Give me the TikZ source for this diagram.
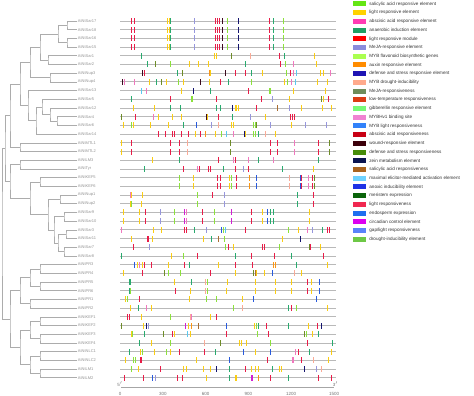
\documentclass[tikz,border=0pt]{standalone}
\usepackage{fontspec}
\setmainfont{Liberation Sans}
\usetikzlibrary{positioning,calc}

% tick colours
\definecolor{tR}{RGB}{232,28,72}
\definecolor{tY}{RGB}{250,205,20}
\definecolor{tT}{RGB}{40,170,110}
\definecolor{tG}{RGB}{140,225,60}
\definecolor{tP}{RGB}{240,120,190}
\definecolor{tL}{RGB}{150,150,220}
\definecolor{tB}{RGB}{40,90,220}
\definecolor{tN}{RGB}{20,20,110}
\definecolor{tO}{RGB}{250,150,20}
\definecolor{tS}{RGB}{250,170,150}
\definecolor{tV}{RGB}{110,140,40}
\definecolor{tK}{RGB}{60,10,30}
\definecolor{tC}{RGB}{90,200,240}
\definecolor{tM}{RGB}{210,30,210}
\definecolor{tW}{RGB}{170,110,50}

% legend colours
\definecolor{lc1}{RGB}{100,230,20}
\definecolor{lc2}{RGB}{255,210,0}
\definecolor{lc3}{RGB}{255,60,180}
\definecolor{lc4}{RGB}{30,160,100}
\definecolor{lc5}{RGB}{255,0,0}
\definecolor{lc6}{RGB}{140,140,220}
\definecolor{lc7}{RGB}{170,255,80}
\definecolor{lc8}{RGB}{255,140,0}
\definecolor{lc9}{RGB}{30,20,180}
\definecolor{lc10}{RGB}{255,170,140}
\definecolor{lc11}{RGB}{110,140,90}
\definecolor{lc12}{RGB}{220,60,20}
\definecolor{lc13}{RGB}{120,250,120}
\definecolor{lc14}{RGB}{240,130,210}
\definecolor{lc15}{RGB}{50,130,250}
\definecolor{lc16}{RGB}{200,0,20}
\definecolor{lc17}{RGB}{60,0,10}
\definecolor{lc18}{RGB}{70,140,10}
\definecolor{lc19}{RGB}{10,20,80}
\definecolor{lc20}{RGB}{170,100,30}
\definecolor{lc21}{RGB}{110,210,255}
\definecolor{lc22}{RGB}{30,50,230}
\definecolor{lc23}{RGB}{10,100,10}
\definecolor{lc24}{RGB}{240,40,80}
\definecolor{lc25}{RGB}{30,110,240}
\definecolor{lc26}{RGB}{220,0,240}
\definecolor{lc27}{RGB}{90,130,250}
\definecolor{lc28}{RGB}{110,200,70}

\newcommand\clade[4]{%
  \coordinate (cm) at ($(#3)!.5!(#4)$);
  \coordinate (cx) at (#2,0);
  \coordinate (#1) at (cm -| cx);
  \draw[tree] (#3) -| (#1) |- (#4);}

\begin{document}
\begin{tikzpicture}[x=1pt,y=-1pt,
  tree/.style={draw=gray!65,line width=0.6pt},
  bar/.style={draw=gray!55,line width=0.8pt},
  lab/.style={font=\fontsize{4}{4}\selectfont,text=gray!85,inner sep=0.4pt},
  key/.style={minimum width=13pt,minimum height=5pt,inner sep=0pt},
  keytext/.style={font=\fontsize{4.6}{5}\selectfont,text=black!80,inner sep=0.4pt},
  axlab/.style={font=\fontsize{4.5}{5}\selectfont,text=gray!90!black,inner sep=0.3pt}]
\useasboundingbox (0,0) rectangle (474,396);

% genes, tracks
\foreach \r/\g in {1/Sar17,2/Sar18,3/Sar16,4/Sar15,5/Sar1,6/Sar2,7/Nup3,8/Nup4,
  9/Sar13,10/Sar5,11/Sar12,12/Sar4,13/Sar6,14/Sar14,15/MTL1,16/MTL2,17/LM3,18/Tyr,
  19/KEF5,20/KEF6,21/Nup1,22/Nup2,23/Sar9,24/Sar10,25/Sar3,26/Sar11,27/Sar7,28/Sar8,
  29/PR3,30/PR4,31/PR5,32/PR6,33/PR1,34/PR2,35/KEF1,36/KEF2,37/KEF3,38/KEF4,
  39/NLC1,40/NLC2,41/LM1,42/LM2} {
  \coordinate (l\r) at (77,{21+(\r-1)*8.7});
  \node[lab,right=0.3pt of l\r] (gene\r) {AtNt\g};
  \coordinate (bs\r) at (120,{21+(\r-1)*8.7});
  \coordinate (be\r) at (336,{21+(\r-1)*8.7});
  \draw[bar] (bs\r) -- (be\r);
}

% tree
\clade{a1}{67}{l1}{l2}
\clade{a2}{67}{l3}{l4}
\clade{a3}{58}{a1}{a2}
\clade{a4}{48}{l5}{l6}
\clade{a5}{40}{a3}{a4}
\clade{a6}{50}{l7}{l8}
\clade{a7}{30}{a5}{a6}
\clade{b1}{57}{l12}{l13}
\clade{b2}{50}{l11}{b1}
\clade{b3}{42}{l10}{b2}
\clade{b4}{36}{b3}{l14}
\clade{b5}{28}{l9}{b4}
\clade{c1}{20}{a7}{b5}
\clade{c0}{20}{l15}{l16}
\clade{c2}{10}{c1}{c0}
\clade{d1}{20}{l17}{l18}
\clade{d2}{40}{l19}{l20}
\clade{d3}{60}{l21}{l22}
\clade{d4}{64}{l23}{l24}
\clade{d5}{66}{l25}{l26}
\clade{d6}{64}{l27}{l28}
\clade{d7}{58}{d5}{d6}
\clade{d8}{54}{d4}{d7}
\clade{d9}{48}{d3}{d8}
\clade{d10}{30}{d2}{d9}
\clade{d11}{10}{d1}{d10}
\clade{e1}{40}{l29}{l30}
\clade{e2}{40}{l31}{l32}
\clade{e3}{30}{e1}{e2}
\clade{e4}{30}{l33}{l34}
\clade{e5}{20}{e3}{e4}
\clade{f1}{40}{l35}{l36}
\clade{f2}{40}{l37}{l38}
\clade{f3}{30}{f1}{f2}
\clade{f4}{40}{l39}{l40}
\clade{f5}{40}{l41}{l42}
\clade{f6}{30}{f4}{f5}
\clade{f7}{20}{f3}{f6}
\clade{g1}{10}{e5}{f7}
\clade{h1}{5}{c2}{d11}
\clade{root}{2}{h1}{g1}

% cis-elements
\foreach \r/\list in {
 1/{131/R,134/R,167/Y,169/Y,170/T,194/L,215/R,217/R,219/R,222/K,227/G,238/N,269/R,273/T,283/G},
 2/{131/R,134/R,167/Y,169/Y,170/T,194/L,215/R,217/R,219/R,222/K,227/G,238/N,269/R,273/T,283/G},
 3/{131/R,134/R,167/Y,169/Y,170/T,194/L,215/R,217/R,219/R,222/K,227/G,238/N,269/R,273/T,283/G},
 4/{131/R,134/R,167/Y,169/Y,170/T,194/L,215/R,217/R,219/R,222/K,227/G,238/N,269/R,273/T,283/G},
 5/{141/T,214/Y,216/Y,231/V,250/S,279/R,284/T,314/Y},
 6/{147/T,155/V,170/G,189/Y,198/Y,208/Y,245/T,280/R,285/G,293/P,316/Y},
 7/{142/K,144/R,177/T,182/V,209/O,210.5/Y,225/K,235/R,245/R,251/T,262/Y,286/G,290/R,293/P,296/C,320/Y,323/Y,330/P},
 8/{122/K,124/P,134/P,149/Y,156/T,161/V,166/Y,178/G,183/Y,200/K,209/Y,220/R,228/T,251/G,284/Y,287/G,291/P,295/C,317/Y,327/Y},
 9/{141/C,146/P,181/Y,193/N,210/T,248/R,269/G,270/G,293/Y,325/Y},
 10/{131/T,170/R,191/G,192/G,216/R,261/R,272/L,289/Y,321/V,323/Y,328/R},
 11/{133/Y,154/Y,170/T,180/T,216/T,220/T,232/N,235/Y,236.5/Y,238/Y,256/R,277/W,289/L,301/Y,322/Y,331/Y},
 12/{121/V,135/R,153/P,158/Y,172/Y,181/Y,206/K,207.5/Y,218/R,232/T,250/L,265/Y,290/R,292/R,294/R},
 13/{123/Y,131/G,133/Y,150/Y,168/Y,183/T,196/B,211/L,218/S,231/Y,233/Y,253/G,255/G,256.5/V,270/L,291/Y,305/L,326/L},
 14/{158/R,165/R,172/R,174/R,181/R,188/R,195/Y,200/R,205/O,215/Y,221/G,226/C,233/P,244/N,245.5/Y,253/G,255/G,258/T,265/S,275/Y},
 15/{121/Y,131/R,170/R,179/R,187/S,230/V,270/R,277/R,294/P,318/R,329/V},
 16/{121/Y,131/R,170/R,179/R,187/S,230/V,270/R,277/R,294/P,318/R,329/V},
 17/{152/Y,179/T,218/R,233/P,235/R,248/P,258/T,273/P,318/T},
 18/{144/T,183/R,197/P,199/R,208/R,210/R,223/T,235/R,243/L,248/R,282/T,313/Y},
 19/{179/G,193/Y,217/R,220/R,229/Y,231/G,236/R,249/O,256/B,289/S,300/B,301.5/R,308/P,312/R,314/V},
 20/{179/G,193/Y,217/R,220/R,229/Y,231/G,236/R,249/O,256/B,289/S,300/B,301.5/R,308/P,312/R,314/V},
 21/{130/P,131.5/Y,142/Y,197/G,212/R,224/L,297/T,313/R},
 22/{130/Y,131.5/G,141/Y,197/G,224/L,297/T,313/R},
 23/{123/Y,139/Y,145/R,160/L,174/G,184/M,186/P,202/R,214/G,231/M,251/R,262/Y,267/B,270/T,273/T,309/Y},
 24/{123/Y,139/Y,145/R,160/L,174/G,184/M,186/P,202/R,214/G,231/M,251/R,262/Y,267/B,270/T,273/T,309/Y},
 25/{121/P,153/Y,161/Y,184/R,186/R,194/T,206/L,221/B,223/G,225/C,245/R,288/G,298/Y,307/P,312/L,322/T,327/R,329/R},
 26/{131/Y,147/R,148.5/R,152/Y,203/Y,211/T,218/W,224/G,282/Y,300/N},
 27/{133/R,149/L,225/G,228/R,233/Y,262/R,264/R,279/G,309/V,310.5/R,320/Y},
 28/{121/T,171/Y,183/G,197/R,235/T,251/R,274/R,291/T,323/R},
 29/{134/B,137/Y,139.5/P,142/Y,144.5/R,151/R,168/Y,184/R,189/T,218/Y,235/R,252/R,273.5/O,275/O,296/T,327/Y},
 30/{123/Y,142/R,164/V,168/G,180/G,210/R,235/Y,253/V,255/W,256.5/Y,264/Y,272/B,294/S,301/Y},
 31/{129/T,130.5/T,174/Y,191/T,205/S,207/G,227/Y,255/Y,275/Y,291/Y,307/R,311/Y,319/B},
 32/{129/T,130.5/G,175/R,190/Y,205/S,207/G,226/Y,255/Y,275/Y,291/Y,307/R,311/Y,319/B},
 33/{125/Y,127/G,139/R,189/Y,206/G,216/G,242/Y,253/B,316/B},
 34/{130/Y,138/T,146/P,151/Y,233/G,242/S,288/T,291/R,296/G,327/Y},
 35/{127/R,129/R,141/Y,170/G,190/S,191.5/P,210/Y,216/R},
 36/{121/V,143/Y,146/N,148/L,185/M,188/Y,191/O,198/W,226/B,254/Y,256/G,258/T,266/R,288/T,308/Y,317/R,321/N},
 37/{131/Y,132.5/G,144/T,163/V,172/R,174/Y,187/C,190/Y,226/R,257/G,268/R,304/V,306/G,312/Y,318/T},
 38/{139/T,151/Y,170/G,204/S,220/V,239/Y,241/Y,246/Y,270/G,307/R,332/T},
 39/{129/T,140/Y,142/G,154/Y,166/G,170/Y,179/R,204/R,215/T,243/B,255/Y,270/B,295/P,298/R,309/T,331/Y},
 40/{125/Y,133/G,135/G,140/R,141.5/R,196/Y,229/B,267/R,292/P,293.5/P,301/R,313/S,328/Y},
 41/{131/G,138/Y,160/R,183/Y,186/Y,203/Y,210/Y,216/N,229/T,245/R,251/Y,255/Y,258/Y,272/T,279/Y,281/Y,304/N,316/L,321/S},
 42/{124/R,143/R,152/B,155/L,177/R,182/R,206/Y,229/T,235/Y,236.5/Y,251/M,252.5/M,258/O,270/R,288/T,318/R,331/R}}
  \foreach \x/\c in \list
    \fill[t\c] ({\x-0.5},{21+(\r-1)*8.7-3}) rectangle ({\x+0.5},{21+(\r-1)*8.7+3});

% legend
\foreach \i/\t in {1/salicylic acid responsive element,2/light responsive element,
  3/abscisic acid responsive element,4/anaerobic induction element,5/light responsive module,
  6/MeJA-responsive element,7/MYB flavonoid biosynthetic genes,8/auxin responsive element,
  9/defense and stress responsive element,10/MYB drought-inducibility,11/MeJA-responsiveness,
  12/low-temperature responsiveness,13/gibberellin responsive element,14/MYBHv1 binding site,
  15/MYB light responsiveness,16/abscisic acid responsiveness,17/wound-responsive element,
  18/defense and stress responsiveness,19/zein metabolism element,20/salicylic acid responsiveness,
  21/maximal elicitor-mediated activation element,22/anoxic inducibility element,
  23/meristem expression,24/light responsiveness,25/endosperm expression,
  26/circadian control element,27/{gap/light responsiveness},28/drought-inducibility element} {
  \node[key,fill=lc\i] (k\i) at (359.5,{4+(\i-1)*8.71}) {};
  \node[keytext,right=2.6pt of k\i] (kt\i) {\t};
}

% scale
\coordinate (ax0) at (121,387.5);
\coordinate (ax1) at (334,387.5);
\draw[gray!70,line width=0.5pt] (ax0) -- (ax1);
\node[axlab] (five) at (120,384.5) {5$'$};
\node[axlab] (three) at (335.5,384.5) {3$'$};
\foreach \v in {0,300,600,900,1200,1500}
  \node[axlab] (v\v) at ({120+\v*0.1427},393.5) {\v};
\end{tikzpicture}
\end{document}
